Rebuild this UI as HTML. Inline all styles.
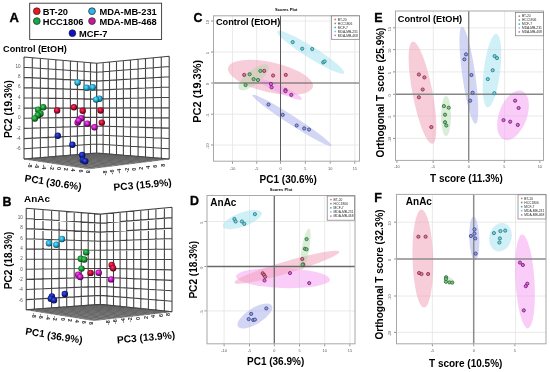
<!DOCTYPE html><html><head><meta charset="utf-8"><style>html,body{margin:0;padding:0;background:#fff;}svg{display:block;will-change:transform;filter:blur(0.3px);}text{font-family:"Liberation Sans", sans-serif;}</style></head><body>
<svg width="550" height="372" viewBox="0 0 550 372">
<defs>
<radialGradient id="g_red" cx="0.45" cy="0.42" r="0.58" fx="0.4" fy="0.36"><stop offset="0" stop-color="#e84868"/><stop offset="0.5" stop-color="#c80c34"/><stop offset="0.85" stop-color="#78001c"/><stop offset="1" stop-color="#380010"/></radialGradient>
<radialGradient id="g_green" cx="0.45" cy="0.42" r="0.58" fx="0.4" fy="0.36"><stop offset="0" stop-color="#50d068"/><stop offset="0.5" stop-color="#1c9a36"/><stop offset="0.85" stop-color="#0a5a18"/><stop offset="1" stop-color="#022a08"/></radialGradient>
<radialGradient id="g_cyan" cx="0.45" cy="0.42" r="0.58" fx="0.4" fy="0.36"><stop offset="0" stop-color="#70dcf8"/><stop offset="0.5" stop-color="#28b0d8"/><stop offset="0.85" stop-color="#0a6a88"/><stop offset="1" stop-color="#023040"/></radialGradient>
<radialGradient id="g_mag" cx="0.45" cy="0.42" r="0.58" fx="0.4" fy="0.36"><stop offset="0" stop-color="#f060f0"/><stop offset="0.5" stop-color="#c818c0"/><stop offset="0.85" stop-color="#700070"/><stop offset="1" stop-color="#300030"/></radialGradient>
<radialGradient id="g_blue" cx="0.45" cy="0.42" r="0.58" fx="0.4" fy="0.36"><stop offset="0" stop-color="#4058e0"/><stop offset="0.5" stop-color="#1828b0"/><stop offset="0.85" stop-color="#0a1268"/><stop offset="1" stop-color="#020834"/></radialGradient>
</defs>
<rect width="550" height="372" fill="#fff"/>
<text x="9.6" y="22.0" font-size="13.0" font-weight="bold" text-anchor="start" fill="#000" stroke="#000" stroke-width="0.35">A</text>
<rect x="29.7" y="3.2" width="131.9" height="36.3" fill="#fff" stroke="#333" stroke-width="0.9"/>
<circle cx="36.8" cy="11.2" r="3.4" fill="#f0141c" stroke="#222" stroke-width="0.7"/>
<text x="42.7" y="14.6" font-size="9.3" font-weight="bold" text-anchor="start" fill="#000">BT-20</text>
<circle cx="36.8" cy="21.1" r="3.4" fill="#14a848" stroke="#222" stroke-width="0.7"/>
<text x="42.7" y="24.5" font-size="9.3" font-weight="bold" text-anchor="start" fill="#000">HCC1806</text>
<circle cx="92.0" cy="11.2" r="3.4" fill="#30b4e8" stroke="#222" stroke-width="0.7"/>
<text x="99.4" y="14.6" font-size="9.3" font-weight="bold" text-anchor="start" fill="#000">MDA-MB-231</text>
<circle cx="92.0" cy="21.1" r="3.4" fill="#c8189c" stroke="#222" stroke-width="0.7"/>
<text x="99.4" y="24.5" font-size="9.3" font-weight="bold" text-anchor="start" fill="#000">MDA-MB-468</text>
<circle cx="72.4" cy="33.2" r="3.4" fill="#1010c8" stroke="#222" stroke-width="0.7"/>
<text x="79.0" y="36.6" font-size="9.3" font-weight="bold" text-anchor="start" fill="#000">MCF-7</text>
<text x="3.1" y="52.3" font-size="9.1" font-weight="bold" text-anchor="start" fill="#000">Control (EtOH)</text>
<polygon points="24,159 96.6,153 169.2,159.0 89,168.8" fill="#bdbdbd"/><path d="M24.00 159.00L89.00 168.80M96.60 153.00L24.00 159.00M29.19 158.57L94.73 168.10M101.79 153.43L28.64 159.70M34.37 158.14L100.46 167.40M106.97 153.86L33.29 160.40M39.56 157.71L106.19 166.70M112.16 154.29L37.93 161.10M44.74 157.29L111.91 166.00M117.34 154.71L42.57 161.80M49.93 156.86L117.64 165.30M122.53 155.14L47.21 162.50M55.11 156.43L123.37 164.60M127.71 155.57L51.86 163.20M60.30 156.00L129.10 163.90M132.90 156.00L56.50 163.90M65.49 155.57L134.83 163.20M138.09 156.43L61.14 164.60M70.67 155.14L140.56 162.50M143.27 156.86L65.79 165.30M75.86 154.71L146.29 161.80M148.46 157.29L70.43 166.00M81.04 154.29L152.01 161.10M153.64 157.71L75.07 166.70M86.23 153.86L157.74 160.40M158.83 158.14L79.71 167.40M91.41 153.43L163.47 159.70M164.01 158.57L84.36 168.10M96.60 153.00L169.20 159.00M169.20 159.00L89.00 168.80" stroke="#404040" stroke-width="0.5" fill="none"/><path d="M24.00 57.00V159.00M32.30 57.71V158.31M40.40 58.40V157.64M48.20 59.07V157.00M55.80 59.72V156.37M63.10 60.34V155.77M70.40 60.96V155.17M77.40 61.56V154.59M84.10 62.13V154.03M90.50 62.68V153.50M96.60 63.20V153.00M24.00 57.00L96.60 63.20M24.00 67.20L96.60 72.18M24.00 77.40L96.60 81.16M24.00 87.60L96.60 90.14M24.00 97.80L96.60 99.12M24.00 108.00L96.60 108.10M24.00 118.20L96.60 117.08M24.00 128.40L96.60 126.06M24.00 138.60L96.60 135.04M24.00 148.80L96.60 144.02M24.00 159.00L96.60 153.00" stroke="#454545" stroke-width="1.1" fill="none"/><path d="M96.60 63.20V153.00M103.10 62.57V153.54M109.50 61.96V154.07M116.50 61.28V154.64M123.40 60.62V155.21M130.50 59.93V155.80M138.10 59.20V156.43M145.50 58.49V157.04M153.30 57.73V157.69M161.30 56.96V158.35M169.20 56.20V159.00M96.60 63.20L169.20 56.20M96.60 72.18L169.20 66.48M96.60 81.16L169.20 76.76M96.60 90.14L169.20 87.04M96.60 99.12L169.20 97.32M96.60 108.10L169.20 107.60M96.60 117.08L169.20 117.88M96.60 126.06L169.20 128.16M96.60 135.04L169.20 138.44M96.60 144.02L169.20 148.72M96.60 153.00L169.20 159.00" stroke="#454545" stroke-width="1.1" fill="none"/>
<text x="20.5" y="67.5" font-size="4.6" font-weight="normal" text-anchor="end" fill="#555">10</text>
<text x="20.5" y="77.85" font-size="4.6" font-weight="normal" text-anchor="end" fill="#555">8</text>
<text x="20.5" y="88.2" font-size="4.6" font-weight="normal" text-anchor="end" fill="#555">6</text>
<text x="20.5" y="98.55" font-size="4.6" font-weight="normal" text-anchor="end" fill="#555">4</text>
<text x="20.5" y="108.9" font-size="4.6" font-weight="normal" text-anchor="end" fill="#555">2</text>
<text x="20.5" y="119.25" font-size="4.6" font-weight="normal" text-anchor="end" fill="#555">0</text>
<text x="20.5" y="129.6" font-size="4.6" font-weight="normal" text-anchor="end" fill="#555">-2</text>
<text x="20.5" y="139.95000000000002" font-size="4.6" font-weight="normal" text-anchor="end" fill="#555">-4</text>
<text x="20.5" y="150.29999999999998" font-size="4.6" font-weight="normal" text-anchor="end" fill="#555">-6</text>
<text x="29.7" y="165.1" font-size="5.4" font-weight="bold" text-anchor="middle" dominant-baseline="central" fill="#2a2a2a" transform="rotate(90 29.7 165.1)">-8</text><text x="37.0" y="165.9" font-size="5.4" font-weight="bold" text-anchor="middle" dominant-baseline="central" fill="#2a2a2a" transform="rotate(90 37.0 165.9)">-6</text><text x="44.2" y="166.8" font-size="5.4" font-weight="bold" text-anchor="middle" dominant-baseline="central" fill="#2a2a2a" transform="rotate(90 44.2 166.8)">-4</text><text x="51.5" y="167.6" font-size="5.4" font-weight="bold" text-anchor="middle" dominant-baseline="central" fill="#2a2a2a" transform="rotate(90 51.5 167.6)">-2</text><text x="58.7" y="168.4" font-size="5.4" font-weight="bold" text-anchor="middle" dominant-baseline="central" fill="#2a2a2a" transform="rotate(90 58.7 168.4)">0</text><text x="66.0" y="169.3" font-size="5.4" font-weight="bold" text-anchor="middle" dominant-baseline="central" fill="#2a2a2a" transform="rotate(90 66.0 169.3)">2</text><text x="73.2" y="170.1" font-size="5.4" font-weight="bold" text-anchor="middle" dominant-baseline="central" fill="#2a2a2a" transform="rotate(90 73.2 170.1)">4</text><text x="80.5" y="171.0" font-size="5.4" font-weight="bold" text-anchor="middle" dominant-baseline="central" fill="#2a2a2a" transform="rotate(90 80.5 171.0)">6</text><text x="87.7" y="171.8" font-size="5.4" font-weight="bold" text-anchor="middle" dominant-baseline="central" fill="#2a2a2a" transform="rotate(90 87.7 171.8)">8</text>
<text x="105.2" y="173.0" font-size="5.4" font-weight="bold" text-anchor="middle" dominant-baseline="central" fill="#2a2a2a" transform="rotate(-90 105.2 173.0)">-8</text><text x="112.4" y="172.0" font-size="5.4" font-weight="bold" text-anchor="middle" dominant-baseline="central" fill="#2a2a2a" transform="rotate(-90 112.4 172.0)">-6</text><text x="119.5" y="171.1" font-size="5.4" font-weight="bold" text-anchor="middle" dominant-baseline="central" fill="#2a2a2a" transform="rotate(-90 119.5 171.1)">-4</text><text x="126.7" y="170.1" font-size="5.4" font-weight="bold" text-anchor="middle" dominant-baseline="central" fill="#2a2a2a" transform="rotate(-90 126.7 170.1)">-2</text><text x="133.9" y="169.2" font-size="5.4" font-weight="bold" text-anchor="middle" dominant-baseline="central" fill="#2a2a2a" transform="rotate(-90 133.9 169.2)">0</text><text x="141.1" y="168.2" font-size="5.4" font-weight="bold" text-anchor="middle" dominant-baseline="central" fill="#2a2a2a" transform="rotate(-90 141.1 168.2)">2</text><text x="148.2" y="167.2" font-size="5.4" font-weight="bold" text-anchor="middle" dominant-baseline="central" fill="#2a2a2a" transform="rotate(-90 148.2 167.2)">4</text><text x="155.4" y="166.3" font-size="5.4" font-weight="bold" text-anchor="middle" dominant-baseline="central" fill="#2a2a2a" transform="rotate(-90 155.4 166.3)">6</text><text x="162.6" y="165.3" font-size="5.4" font-weight="bold" text-anchor="middle" dominant-baseline="central" fill="#2a2a2a" transform="rotate(-90 162.6 165.3)">8</text>
<circle cx="77.6" cy="82.4" r="3.2" fill="url(#g_cyan)"/>
<circle cx="86.6" cy="87.8" r="3.2" fill="url(#g_cyan)"/>
<circle cx="92.7" cy="87.3" r="3.2" fill="url(#g_cyan)"/>
<circle cx="99.4" cy="98.8" r="3.2" fill="url(#g_cyan)"/>
<circle cx="96.1" cy="99.6" r="3.2" fill="url(#g_cyan)"/>
<circle cx="43.2" cy="107.3" r="3.2" fill="url(#g_green)"/>
<circle cx="38.1" cy="109.7" r="3.2" fill="url(#g_green)"/>
<circle cx="40.5" cy="113.7" r="3.2" fill="url(#g_green)"/>
<circle cx="37.7" cy="115.2" r="3.2" fill="url(#g_green)"/>
<circle cx="34.8" cy="118.5" r="3.2" fill="url(#g_green)"/>
<circle cx="57.1" cy="110.5" r="3.2" fill="url(#g_red)"/>
<circle cx="73.9" cy="107.3" r="3.2" fill="url(#g_red)"/>
<circle cx="82.7" cy="110.8" r="3.2" fill="url(#g_red)"/>
<circle cx="100.6" cy="110.5" r="3.2" fill="url(#g_red)"/>
<circle cx="101.8" cy="122.6" r="3.2" fill="url(#g_red)"/>
<circle cx="77.6" cy="122.6" r="3.2" fill="url(#g_mag)"/>
<circle cx="81.3" cy="118.2" r="3.2" fill="url(#g_mag)"/>
<circle cx="78.6" cy="120.6" r="3.2" fill="url(#g_mag)"/>
<circle cx="87.3" cy="123.6" r="3.2" fill="url(#g_mag)"/>
<circle cx="94.5" cy="127.3" r="3.2" fill="url(#g_mag)"/>
<circle cx="57.8" cy="135.7" r="3.2" fill="url(#g_blue)"/>
<circle cx="72.4" cy="144.8" r="3.2" fill="url(#g_blue)"/>
<circle cx="82.2" cy="154.9" r="3.2" fill="url(#g_blue)"/>
<circle cx="82.9" cy="160.1" r="3.2" fill="url(#g_blue)"/>
<circle cx="85.2" cy="161.2" r="3.2" fill="url(#g_blue)"/>
<text x="12.1" y="138" font-size="10.1" font-weight="bold" text-anchor="start" fill="#000" transform="rotate(-90 12.1 138)">PC2 (19.3%)</text>
<g transform="rotate(8 24.4 181)"><text x="24.4" y="181.6" font-size="10.0" font-weight="bold" text-anchor="start" fill="#000">PC1</text><text x="46.2" y="182.2" font-size="10.2" font-weight="bold">(30.6%)</text></g>
<g transform="rotate(-5 113.8 190.8)"><text x="113.8" y="190.8" font-size="10.2" font-weight="bold" text-anchor="start" fill="#000">PC3 (15.9%)</text></g>
<text x="2.6" y="206.1" font-size="12.4" font-weight="bold" text-anchor="start" fill="#000" stroke="#000" stroke-width="0.35">B</text>
<text x="24.1" y="202.4" font-size="9.9" font-weight="bold" text-anchor="start" fill="#000">AnAc</text>
<polygon points="26.2,309.8 100.4,304.4 172.0,311.7 94,320.5" fill="#bdbdbd"/><path d="M26.20 309.80L94.00 320.50M100.40 304.40L26.20 309.80M31.50 309.41L99.57 319.87M105.51 304.92L31.04 310.56M36.80 309.03L105.14 319.24M110.63 305.44L35.89 311.33M42.10 308.64L110.71 318.61M115.74 305.96L40.73 312.09M47.40 308.26L116.29 317.99M120.86 306.49L45.57 312.86M52.70 307.87L121.86 317.36M125.97 307.01L50.41 313.62M58.00 307.49L127.43 316.73M131.09 307.53L55.26 314.39M63.30 307.10L133.00 316.10M136.20 308.05L60.10 315.15M68.60 306.71L138.57 315.47M141.31 308.57L64.94 315.91M73.90 306.33L144.14 314.84M146.43 309.09L69.79 316.68M79.20 305.94L149.71 314.21M151.54 309.61L74.63 317.44M84.50 305.56L155.29 313.59M156.66 310.14L79.47 318.21M89.80 305.17L160.86 312.96M161.77 310.66L84.31 318.97M95.10 304.79L166.43 312.33M166.89 311.18L89.16 319.74M100.40 304.40L172.00 311.70M172.00 311.70L94.00 320.50" stroke="#404040" stroke-width="0.5" fill="none"/><path d="M26.20 208.30V309.80M34.40 208.94V309.20M43.00 209.61V308.58M51.60 210.29V307.95M59.10 210.87V307.41M66.70 211.47V306.85M74.20 212.05V306.31M81.30 212.61V305.79M88.20 213.15V305.29M94.60 213.65V304.82M100.40 214.10V304.40M26.20 208.30L100.40 214.10M26.20 218.45L100.40 223.13M26.20 228.60L100.40 232.16M26.20 238.75L100.40 241.19M26.20 248.90L100.40 250.22M26.20 259.05L100.40 259.25M26.20 269.20L100.40 268.28M26.20 279.35L100.40 277.31M26.20 289.50L100.40 286.34M26.20 299.65L100.40 295.37M26.20 309.80L100.40 304.40" stroke="#454545" stroke-width="1.1" fill="none"/><path d="M100.40 214.10V304.40M107.00 213.46V305.07M113.50 212.84V305.74M120.10 212.20V306.41M126.70 211.57V307.08M133.70 210.89V307.80M140.80 210.21V308.52M148.40 209.47V309.29M155.90 208.75V310.06M164.40 207.93V310.93M172.00 207.20V311.70M100.40 214.10L172.00 207.20M100.40 223.13L172.00 217.65M100.40 232.16L172.00 228.10M100.40 241.19L172.00 238.55M100.40 250.22L172.00 249.00M100.40 259.25L172.00 259.45M100.40 268.28L172.00 269.90M100.40 277.31L172.00 280.35M100.40 286.34L172.00 290.80M100.40 295.37L172.00 301.25M100.40 304.40L172.00 311.70" stroke="#454545" stroke-width="1.1" fill="none"/>
<text x="22.8" y="219.1" font-size="4.6" font-weight="normal" text-anchor="end" fill="#555">10</text>
<text x="22.8" y="229.4" font-size="4.6" font-weight="normal" text-anchor="end" fill="#555">8</text>
<text x="22.8" y="239.7" font-size="4.6" font-weight="normal" text-anchor="end" fill="#555">6</text>
<text x="22.8" y="250.0" font-size="4.6" font-weight="normal" text-anchor="end" fill="#555">4</text>
<text x="22.8" y="260.3" font-size="4.6" font-weight="normal" text-anchor="end" fill="#555">2</text>
<text x="22.8" y="270.6" font-size="4.6" font-weight="normal" text-anchor="end" fill="#555">0</text>
<text x="22.8" y="280.90000000000003" font-size="4.6" font-weight="normal" text-anchor="end" fill="#555">-2</text>
<text x="22.8" y="291.20000000000005" font-size="4.6" font-weight="normal" text-anchor="end" fill="#555">-4</text>
<text x="22.8" y="301.5" font-size="4.6" font-weight="normal" text-anchor="end" fill="#555">-6</text>
<text x="33.7" y="315.3" font-size="5.4" font-weight="bold" text-anchor="middle" dominant-baseline="central" fill="#2a2a2a" transform="rotate(90 33.7 315.3)">-8</text><text x="40.9" y="316.3" font-size="5.4" font-weight="bold" text-anchor="middle" dominant-baseline="central" fill="#2a2a2a" transform="rotate(90 40.9 316.3)">-6</text><text x="48.1" y="317.3" font-size="5.4" font-weight="bold" text-anchor="middle" dominant-baseline="central" fill="#2a2a2a" transform="rotate(90 48.1 317.3)">-4</text><text x="55.3" y="318.3" font-size="5.4" font-weight="bold" text-anchor="middle" dominant-baseline="central" fill="#2a2a2a" transform="rotate(90 55.3 318.3)">-2</text><text x="62.5" y="319.3" font-size="5.4" font-weight="bold" text-anchor="middle" dominant-baseline="central" fill="#2a2a2a" transform="rotate(90 62.5 319.3)">0</text><text x="69.6" y="320.3" font-size="5.4" font-weight="bold" text-anchor="middle" dominant-baseline="central" fill="#2a2a2a" transform="rotate(90 69.6 320.3)">2</text><text x="76.8" y="321.3" font-size="5.4" font-weight="bold" text-anchor="middle" dominant-baseline="central" fill="#2a2a2a" transform="rotate(90 76.8 321.3)">4</text><text x="84.0" y="322.3" font-size="5.4" font-weight="bold" text-anchor="middle" dominant-baseline="central" fill="#2a2a2a" transform="rotate(90 84.0 322.3)">6</text><text x="91.2" y="323.3" font-size="5.4" font-weight="bold" text-anchor="middle" dominant-baseline="central" fill="#2a2a2a" transform="rotate(90 91.2 323.3)">8</text>
<text x="108.0" y="322.6" font-size="5.4" font-weight="bold" text-anchor="middle" dominant-baseline="central" fill="#2a2a2a" transform="rotate(-90 108.0 322.6)">-8</text><text x="115.5" y="321.6" font-size="5.4" font-weight="bold" text-anchor="middle" dominant-baseline="central" fill="#2a2a2a" transform="rotate(-90 115.5 321.6)">-6</text><text x="123.0" y="320.6" font-size="5.4" font-weight="bold" text-anchor="middle" dominant-baseline="central" fill="#2a2a2a" transform="rotate(-90 123.0 320.6)">-4</text><text x="130.5" y="319.6" font-size="5.4" font-weight="bold" text-anchor="middle" dominant-baseline="central" fill="#2a2a2a" transform="rotate(-90 130.5 319.6)">-2</text><text x="138.0" y="318.6" font-size="5.4" font-weight="bold" text-anchor="middle" dominant-baseline="central" fill="#2a2a2a" transform="rotate(-90 138.0 318.6)">0</text><text x="145.5" y="317.5" font-size="5.4" font-weight="bold" text-anchor="middle" dominant-baseline="central" fill="#2a2a2a" transform="rotate(-90 145.5 317.5)">2</text><text x="153.0" y="316.5" font-size="5.4" font-weight="bold" text-anchor="middle" dominant-baseline="central" fill="#2a2a2a" transform="rotate(-90 153.0 316.5)">4</text><text x="160.5" y="315.5" font-size="5.4" font-weight="bold" text-anchor="middle" dominant-baseline="central" fill="#2a2a2a" transform="rotate(-90 160.5 315.5)">6</text><text x="168.0" y="314.5" font-size="5.4" font-weight="bold" text-anchor="middle" dominant-baseline="central" fill="#2a2a2a" transform="rotate(-90 168.0 314.5)">8</text>
<circle cx="49.0" cy="243.3" r="3.2" fill="url(#g_cyan)"/>
<circle cx="56.3" cy="244.8" r="3.2" fill="url(#g_cyan)"/>
<circle cx="61.9" cy="239.0" r="3.2" fill="url(#g_cyan)"/>
<circle cx="86.2" cy="252.4" r="3.2" fill="url(#g_green)"/>
<circle cx="80.8" cy="258.8" r="3.2" fill="url(#g_green)"/>
<circle cx="84.2" cy="259.5" r="3.2" fill="url(#g_green)"/>
<circle cx="81.5" cy="268.6" r="3.2" fill="url(#g_green)"/>
<circle cx="78.1" cy="274.7" r="3.2" fill="url(#g_mag)"/>
<circle cx="80.2" cy="277.0" r="3.2" fill="url(#g_mag)"/>
<circle cx="90.6" cy="272.9" r="3.2" fill="url(#g_red)"/>
<circle cx="111.7" cy="264.9" r="3.2" fill="url(#g_red)"/>
<circle cx="113.1" cy="268.2" r="3.2" fill="url(#g_red)"/>
<circle cx="98.7" cy="272.7" r="3.2" fill="url(#g_mag)"/>
<circle cx="111.1" cy="279.4" r="3.2" fill="url(#g_mag)"/>
<circle cx="51.9" cy="296.5" r="3.2" fill="url(#g_blue)"/>
<circle cx="50.8" cy="298.7" r="3.2" fill="url(#g_blue)"/>
<circle cx="54.0" cy="300.2" r="3.2" fill="url(#g_blue)"/>
<circle cx="64.8" cy="294.0" r="3.2" fill="url(#g_blue)"/>
<text x="11.8" y="289.3" font-size="10.1" font-weight="bold" text-anchor="start" fill="#000" transform="rotate(-90 11.8 289.3)">PC2 (18.3%)</text>
<g transform="rotate(8 25 334)"><text x="25" y="334.6" font-size="10.0" font-weight="bold" text-anchor="start" fill="#000">PC1</text><text x="47.2" y="335.4" font-size="10.2" font-weight="bold">(36.9%)</text></g>
<g transform="rotate(-5 117.2 343.4)"><text x="117.2" y="343.4" font-size="10.2" font-weight="bold" text-anchor="start" fill="#000">PC3 (13.9%)</text></g>
<text x="193.5" y="21.8" font-size="12.4" font-weight="bold" text-anchor="start" fill="#000" stroke="#000" stroke-width="0.35">C</text>
<text x="286.2" y="11.4" font-size="4.1" font-weight="bold" text-anchor="middle" fill="#000">Scores Plot</text>
<rect x="213.5" y="15.8" width="146.0" height="145.39999999999998" fill="#fff"/><path d="M232.5 15.8V161.2M256.7 15.8V161.2M305.4 15.8V161.2M330.2 15.8V161.2M354.8 15.8V161.2M213.5 21H359.5M213.5 52H359.5M213.5 114.2H359.5M213.5 145H359.5" stroke="#e4e4e4" stroke-width="0.8" fill="none"/><ellipse cx="270.5" cy="77.3" rx="43.5" ry="15.0" transform="rotate(12.7 270.5 77.3)" fill="rgb(241,155,181)" fill-opacity="0.5"/><ellipse cx="253.6" cy="77.3" rx="18.7" ry="7.0" transform="rotate(-39 253.6 77.3)" fill="rgb(165,212,160)" fill-opacity="0.42"/><ellipse cx="280.5" cy="89.5" rx="23.4" ry="3.8" transform="rotate(24.1 280.5 89.5)" fill="rgb(245,155,241)" fill-opacity="0.5"/><ellipse cx="292.0" cy="120.4" rx="47.0" ry="4.4" transform="rotate(32.8 292.0 120.4)" fill="rgb(165,173,233)" fill-opacity="0.5"/><ellipse cx="310.7" cy="52.2" rx="39.5" ry="5.8" transform="rotate(32.1 310.7 52.2)" fill="rgb(160,225,240)" fill-opacity="0.5"/><path d="M280.5 15.8V161.2M213.5 83H359.5" stroke="#5a5a5a" stroke-width="1.0" fill="none"/><rect x="213.5" y="15.8" width="146.0" height="145.39999999999998" fill="none" stroke="#a8a8a8" stroke-width="1.0"/><path d="M232.5 161.7v2M256.7 161.7v2M280.5 161.7v2M305.4 161.7v2M330.2 161.7v2M354.8 161.7v2M213.0 21h-2M213.0 52h-2M213.0 83h-2M213.0 114.2h-2M213.0 145h-2" stroke="#777" stroke-width="0.8" fill="none"/><circle cx="244.2" cy="74.9" r="1.6" fill="rgb(228,120,152)" stroke="rgb(115,40,70)" stroke-width="0.8"/><circle cx="264.2" cy="70.9" r="1.6" fill="rgb(228,120,152)" stroke="rgb(115,40,70)" stroke-width="0.8"/><circle cx="273.1" cy="75.5" r="1.6" fill="rgb(228,120,152)" stroke="rgb(115,40,70)" stroke-width="0.8"/><circle cx="285.8" cy="74.9" r="1.6" fill="rgb(228,120,152)" stroke="rgb(115,40,70)" stroke-width="0.8"/><circle cx="249.6" cy="74.2" r="1.6" fill="rgb(125,200,135)" stroke="rgb(45,100,55)" stroke-width="0.8"/><circle cx="260.4" cy="70.9" r="1.6" fill="rgb(125,200,135)" stroke="rgb(45,100,55)" stroke-width="0.8"/><circle cx="253.6" cy="79.1" r="1.6" fill="rgb(125,200,135)" stroke="rgb(45,100,55)" stroke-width="0.8"/><circle cx="258" cy="80" r="1.6" fill="rgb(125,200,135)" stroke="rgb(45,100,55)" stroke-width="0.8"/><circle cx="245.6" cy="85.1" r="1.6" fill="rgb(125,200,135)" stroke="rgb(45,100,55)" stroke-width="0.8"/><circle cx="270.9" cy="84" r="1.6" fill="rgb(230,100,230)" stroke="rgb(100,30,100)" stroke-width="0.8"/><circle cx="271.6" cy="87.3" r="1.6" fill="rgb(230,100,230)" stroke="rgb(100,30,100)" stroke-width="0.8"/><circle cx="285.5" cy="90" r="1.6" fill="rgb(230,100,230)" stroke="rgb(100,30,100)" stroke-width="0.8"/><circle cx="285.5" cy="91.2" r="1.6" fill="rgb(230,100,230)" stroke="rgb(100,30,100)" stroke-width="0.8"/><circle cx="291.3" cy="94.9" r="1.6" fill="rgb(230,100,230)" stroke="rgb(100,30,100)" stroke-width="0.8"/><circle cx="268.5" cy="104.5" r="1.6" fill="rgb(150,160,230)" stroke="rgb(50,60,130)" stroke-width="0.8"/><circle cx="282.7" cy="114.8" r="1.6" fill="rgb(150,160,230)" stroke="rgb(50,60,130)" stroke-width="0.8"/><circle cx="296.7" cy="125.5" r="1.6" fill="rgb(150,160,230)" stroke="rgb(50,60,130)" stroke-width="0.8"/><circle cx="304.2" cy="128.4" r="1.6" fill="rgb(150,160,230)" stroke="rgb(50,60,130)" stroke-width="0.8"/><circle cx="309" cy="129.5" r="1.6" fill="rgb(150,160,230)" stroke="rgb(50,60,130)" stroke-width="0.8"/><circle cx="292.7" cy="42.1" r="1.6" fill="rgb(100,220,232)" stroke="rgb(50,110,120)" stroke-width="0.8"/><circle cx="302.2" cy="48.7" r="1.6" fill="rgb(100,220,232)" stroke="rgb(50,110,120)" stroke-width="0.8"/><circle cx="312.2" cy="49" r="1.6" fill="rgb(100,220,232)" stroke="rgb(50,110,120)" stroke-width="0.8"/><circle cx="323.2" cy="62.4" r="1.6" fill="rgb(100,220,232)" stroke="rgb(50,110,120)" stroke-width="0.8"/><circle cx="324.6" cy="61.4" r="1.6" fill="rgb(100,220,232)" stroke="rgb(50,110,120)" stroke-width="0.8"/><rect x="331.5" y="15.9" width="28.0" height="23.4" fill="#fff" stroke="#777" stroke-width="0.7"/><circle cx="335.2" cy="19.5" r="0.9" fill="#e07090"/><text x="337.8" y="20.7" font-size="3.3" fill="#2a2a2a">BT-20</text><circle cx="335.2" cy="23.46" r="0.9" fill="#60b060"/><text x="337.8" y="24.66" font-size="3.3" fill="#2a2a2a">HCC1806</text><circle cx="335.2" cy="27.419999999999998" r="0.9" fill="#8090d0"/><text x="337.8" y="28.619999999999997" font-size="3.3" fill="#2a2a2a">MCF-7</text><circle cx="335.2" cy="31.38" r="0.9" fill="#70d0e0"/><text x="337.8" y="32.58" font-size="3.3" fill="#2a2a2a">MDA-MB-231</text><circle cx="335.2" cy="35.339999999999996" r="0.9" fill="#d070d0"/><text x="337.8" y="36.54" font-size="3.3" fill="#2a2a2a">MDA-MB-468</text>
<text x="215.9" y="24.7" font-size="9.2" font-weight="bold" text-anchor="start" fill="#000">Control (EtOH)</text>
<text x="209.5" y="22.2" font-size="3.8" font-weight="normal" text-anchor="middle" fill="#555" transform="rotate(-90 209.5 22.2)">10</text>
<text x="209.5" y="53.2" font-size="3.8" font-weight="normal" text-anchor="middle" fill="#555" transform="rotate(-90 209.5 53.2)">5</text>
<text x="209.5" y="84.2" font-size="3.8" font-weight="normal" text-anchor="middle" fill="#555" transform="rotate(-90 209.5 84.2)">0</text>
<text x="209.5" y="115.4" font-size="3.8" font-weight="normal" text-anchor="middle" fill="#555" transform="rotate(-90 209.5 115.4)">-5</text>
<text x="209.5" y="146.2" font-size="3.8" font-weight="normal" text-anchor="middle" fill="#555" transform="rotate(-90 209.5 146.2)">-10</text>
<text x="232.5" y="169.5" font-size="3.8" font-weight="normal" text-anchor="middle" fill="#555">-10</text>
<text x="256.7" y="169.5" font-size="3.8" font-weight="normal" text-anchor="middle" fill="#555">-5</text>
<text x="280.5" y="169.5" font-size="3.8" font-weight="normal" text-anchor="middle" fill="#555">0</text>
<text x="305.4" y="169.5" font-size="3.8" font-weight="normal" text-anchor="middle" fill="#555">5</text>
<text x="330.2" y="169.5" font-size="3.8" font-weight="normal" text-anchor="middle" fill="#555">10</text>
<text x="354.8" y="169.5" font-size="3.8" font-weight="normal" text-anchor="middle" fill="#555">15</text>
<text x="201.3" y="122.8" font-size="11.0" font-weight="bold" text-anchor="start" fill="#000" transform="rotate(-90 201.3 122.8)">PC2 (19.3%)</text>
<text x="259.6" y="182.7" font-size="10.0" font-weight="bold" text-anchor="start" fill="#000">PC1 (30.6%)</text>
<text x="190" y="205.2" font-size="12.4" font-weight="bold" text-anchor="start" fill="#000" stroke="#000" stroke-width="0.35">D</text>
<text x="281" y="191.2" font-size="4.1" font-weight="bold" text-anchor="middle" fill="#000">Scores Plot</text>
<rect x="207" y="195.5" width="148" height="148.3" fill="#fff"/><path d="M224.1 195.5V343.8M249.5 195.5V343.8M299.5 195.5V343.8M324.7 195.5V343.8M349.9 195.5V343.8M207 221.5H355M207 310.9H355" stroke="#e4e4e4" stroke-width="0.8" fill="none"/><ellipse cx="242.3" cy="219.6" rx="20.5" ry="7.0" transform="rotate(-20 242.3 219.6)" fill="rgb(160,225,240)" fill-opacity="0.5"/><ellipse cx="283.0" cy="278.0" rx="47.0" ry="10.0" transform="rotate(2 283.0 278.0)" fill="rgb(245,155,241)" fill-opacity="0.5"/><ellipse cx="286.9" cy="267.2" rx="54.6" ry="6.0" transform="rotate(-16.5 286.9 267.2)" fill="rgb(241,155,181)" fill-opacity="0.5"/><ellipse cx="305.4" cy="249.2" rx="21.0" ry="3.8" transform="rotate(-80 305.4 249.2)" fill="rgb(165,212,160)" fill-opacity="0.42"/><ellipse cx="254.9" cy="316.0" rx="20.0" ry="8.0" transform="rotate(-32 254.9 316.0)" fill="rgb(165,173,233)" fill-opacity="0.5"/><path d="M274.3 195.5V343.8M207 266.5H355" stroke="#6a6a6a" stroke-width="1.3" fill="none"/><rect x="207" y="195.5" width="148" height="148.3" fill="none" stroke="#a8a8a8" stroke-width="1.0"/><path d="M224.1 344.3v2M249.5 344.3v2M274.3 344.3v2M299.5 344.3v2M324.7 344.3v2M349.9 344.3v2M206.5 221.5h-2M206.5 266.5h-2M206.5 310.9h-2" stroke="#777" stroke-width="0.8" fill="none"/><circle cx="234.4" cy="219" r="1.6" fill="rgb(100,220,232)" stroke="rgb(50,110,120)" stroke-width="0.8"/><circle cx="235.6" cy="221.5" r="1.6" fill="rgb(100,220,232)" stroke="rgb(50,110,120)" stroke-width="0.8"/><circle cx="241.9" cy="221.5" r="1.6" fill="rgb(100,220,232)" stroke="rgb(50,110,120)" stroke-width="0.8"/><circle cx="244.3" cy="223.9" r="1.6" fill="rgb(100,220,232)" stroke="rgb(50,110,120)" stroke-width="0.8"/><circle cx="254.9" cy="214.2" r="1.6" fill="rgb(100,220,232)" stroke="rgb(50,110,120)" stroke-width="0.8"/><circle cx="302.3" cy="259" r="1.6" fill="rgb(228,120,152)" stroke="rgb(115,40,70)" stroke-width="0.8"/><circle cx="303.2" cy="264.5" r="1.6" fill="rgb(228,120,152)" stroke="rgb(115,40,70)" stroke-width="0.8"/><circle cx="306.6" cy="239.1" r="1.6" fill="rgb(125,200,135)" stroke="rgb(45,100,55)" stroke-width="0.8"/><circle cx="304.9" cy="248.8" r="1.6" fill="rgb(125,200,135)" stroke="rgb(45,100,55)" stroke-width="0.8"/><circle cx="306.6" cy="249.3" r="1.6" fill="rgb(125,200,135)" stroke="rgb(45,100,55)" stroke-width="0.8"/><circle cx="302.6" cy="264.6" r="1.6" fill="rgb(125,200,135)" stroke="rgb(45,100,55)" stroke-width="0.8"/><circle cx="262.7" cy="273.3" r="1.6" fill="rgb(228,120,152)" stroke="rgb(115,40,70)" stroke-width="0.8"/><circle cx="264" cy="274.9" r="1.6" fill="rgb(228,120,152)" stroke="rgb(115,40,70)" stroke-width="0.8"/><circle cx="265.1" cy="276.7" r="1.6" fill="rgb(228,120,152)" stroke="rgb(115,40,70)" stroke-width="0.8"/><circle cx="264.5" cy="280.5" r="1.6" fill="rgb(230,100,230)" stroke="rgb(100,30,100)" stroke-width="0.8"/><circle cx="290" cy="273.1" r="1.6" fill="rgb(230,100,230)" stroke="rgb(100,30,100)" stroke-width="0.8"/><circle cx="309.2" cy="283.1" r="1.6" fill="rgb(230,100,230)" stroke="rgb(100,30,100)" stroke-width="0.8"/><circle cx="266.3" cy="308.4" r="1.6" fill="rgb(150,160,230)" stroke="rgb(50,60,130)" stroke-width="0.8"/><circle cx="251.2" cy="313.9" r="1.6" fill="rgb(150,160,230)" stroke="rgb(50,60,130)" stroke-width="0.8"/><circle cx="248.7" cy="319.1" r="1.6" fill="rgb(150,160,230)" stroke="rgb(50,60,130)" stroke-width="0.8"/><circle cx="253.2" cy="320" r="1.6" fill="rgb(150,160,230)" stroke="rgb(50,60,130)" stroke-width="0.8"/><circle cx="254.9" cy="319.6" r="1.6" fill="rgb(150,160,230)" stroke="rgb(50,60,130)" stroke-width="0.8"/><rect x="327.2" y="196" width="27.30000000000001" height="24.19999999999999" fill="#fff" stroke="#777" stroke-width="0.7"/><circle cx="330.9" cy="199.6" r="0.9" fill="#e07090"/><text x="333.5" y="200.79999999999998" font-size="3.3" fill="#2a2a2a">BT-20</text><circle cx="330.9" cy="203.72" r="0.9" fill="#60b060"/><text x="333.5" y="204.92" font-size="3.3" fill="#2a2a2a">HCC1806</text><circle cx="330.9" cy="207.83999999999997" r="0.9" fill="#8090d0"/><text x="333.5" y="209.03999999999996" font-size="3.3" fill="#2a2a2a">MCF-7</text><circle cx="330.9" cy="211.95999999999998" r="0.9" fill="#70d0e0"/><text x="333.5" y="213.15999999999997" font-size="3.3" fill="#2a2a2a">MDA-MB-231</text><circle cx="330.9" cy="216.07999999999998" r="0.9" fill="#d070d0"/><text x="333.5" y="217.27999999999997" font-size="3.3" fill="#2a2a2a">MDA-MB-468</text>
<text x="210.3" y="206.4" font-size="10.0" font-weight="bold" text-anchor="start" fill="#000">AnAc</text>
<text x="203.5" y="222.7" font-size="3.8" font-weight="normal" text-anchor="middle" fill="#555" transform="rotate(-90 203.5 222.7)">5</text>
<text x="203.5" y="267.7" font-size="3.8" font-weight="normal" text-anchor="middle" fill="#555" transform="rotate(-90 203.5 267.7)">0</text>
<text x="203.5" y="312.09999999999997" font-size="3.8" font-weight="normal" text-anchor="middle" fill="#555" transform="rotate(-90 203.5 312.09999999999997)">-5</text>
<text x="224.1" y="352" font-size="3.8" font-weight="normal" text-anchor="middle" fill="#555">-10</text>
<text x="249.5" y="352" font-size="3.8" font-weight="normal" text-anchor="middle" fill="#555">-5</text>
<text x="274.3" y="352" font-size="3.8" font-weight="normal" text-anchor="middle" fill="#555">0</text>
<text x="299.5" y="352" font-size="3.8" font-weight="normal" text-anchor="middle" fill="#555">5</text>
<text x="324.7" y="352" font-size="3.8" font-weight="normal" text-anchor="middle" fill="#555">10</text>
<text x="349.9" y="352" font-size="3.8" font-weight="normal" text-anchor="middle" fill="#555">15</text>
<text x="197.2" y="298.6" font-size="10.1" font-weight="bold" text-anchor="start" fill="#000" transform="rotate(-90 197.2 298.6)">PC2 (18.3%)</text>
<text x="247" y="365.3" font-size="10.0" font-weight="bold" text-anchor="start" fill="#000">PC1 (36.9%)</text>
<text x="374.2" y="21.8" font-size="12.5" font-weight="bold" text-anchor="start" fill="#000" stroke="#000" stroke-width="0.35">E</text>
<rect x="395.5" y="11" width="148.0" height="149.4" fill="#fff"/><path d="M433.3 11V160.4M504.6 11V160.4M395.5 27.8H543.5M395.5 49.6H543.5M395.5 71.9H543.5M395.5 116H543.5M395.5 138.4H543.5" stroke="#e4e4e4" stroke-width="0.8" fill="none"/><ellipse cx="422.5" cy="92.7" rx="10.0" ry="52.0" transform="rotate(-10.9 422.5 92.7)" fill="rgb(241,155,181)" fill-opacity="0.5"/><ellipse cx="446.0" cy="116.0" rx="5.0" ry="20.0" transform="rotate(0 446.0 116.0)" fill="rgb(165,212,160)" fill-opacity="0.42"/><ellipse cx="468.8" cy="75.3" rx="6.5" ry="49.0" transform="rotate(-8 468.8 75.3)" fill="rgb(165,173,233)" fill-opacity="0.5"/><ellipse cx="492.0" cy="70.6" rx="8.2" ry="37.0" transform="rotate(6.8 492.0 70.6)" fill="rgb(160,225,240)" fill-opacity="0.5"/><ellipse cx="513.0" cy="115.3" rx="14.0" ry="26.0" transform="rotate(20 513.0 115.3)" fill="rgb(245,155,241)" fill-opacity="0.5"/><path d="M468.7 11V160.4M395.5 94.3H543.5" stroke="#888" stroke-width="1.4" fill="none"/><rect x="395.5" y="11" width="148.0" height="149.4" fill="none" stroke="#a8a8a8" stroke-width="1.0"/><path d="M396.9 160.9v2M433.1 160.9v2M468.8 160.9v2M504.3 160.9v2M539.8 160.9v2M395.0 27.8h-2M395.0 49.6h-2M395.0 71.9h-2M395.0 94.3h-2M395.0 116h-2M395.0 138.4h-2" stroke="#777" stroke-width="0.8" fill="none"/><circle cx="418.9" cy="74.5" r="1.6" fill="rgb(228,120,152)" stroke="rgb(115,40,70)" stroke-width="0.8"/><circle cx="424.4" cy="77.4" r="1.6" fill="rgb(228,120,152)" stroke="rgb(115,40,70)" stroke-width="0.8"/><circle cx="422.7" cy="89.5" r="1.6" fill="rgb(228,120,152)" stroke="rgb(115,40,70)" stroke-width="0.8"/><circle cx="418.9" cy="97.3" r="1.6" fill="rgb(228,120,152)" stroke="rgb(115,40,70)" stroke-width="0.8"/><circle cx="431.3" cy="127.1" r="1.6" fill="rgb(228,120,152)" stroke="rgb(115,40,70)" stroke-width="0.8"/><circle cx="443.9" cy="106.1" r="1.6" fill="rgb(125,200,135)" stroke="rgb(45,100,55)" stroke-width="0.8"/><circle cx="448.7" cy="107.7" r="1.6" fill="rgb(125,200,135)" stroke="rgb(45,100,55)" stroke-width="0.8"/><circle cx="445" cy="114.7" r="1.6" fill="rgb(125,200,135)" stroke="rgb(45,100,55)" stroke-width="0.8"/><circle cx="445" cy="122.2" r="1.6" fill="rgb(125,200,135)" stroke="rgb(45,100,55)" stroke-width="0.8"/><circle cx="446.3" cy="125.5" r="1.6" fill="rgb(125,200,135)" stroke="rgb(45,100,55)" stroke-width="0.8"/><circle cx="466" cy="54.4" r="1.6" fill="rgb(150,160,230)" stroke="rgb(50,60,130)" stroke-width="0.8"/><circle cx="464.4" cy="59.3" r="1.6" fill="rgb(150,160,230)" stroke="rgb(50,60,130)" stroke-width="0.8"/><circle cx="471.4" cy="75" r="1.6" fill="rgb(150,160,230)" stroke="rgb(50,60,130)" stroke-width="0.8"/><circle cx="472.6" cy="92.7" r="1.6" fill="rgb(150,160,230)" stroke="rgb(50,60,130)" stroke-width="0.8"/><circle cx="470.2" cy="100.7" r="1.6" fill="rgb(150,160,230)" stroke="rgb(50,60,130)" stroke-width="0.8"/><circle cx="494.6" cy="56.1" r="1.6" fill="rgb(100,220,232)" stroke="rgb(50,110,120)" stroke-width="0.8"/><circle cx="497" cy="58.1" r="1.6" fill="rgb(100,220,232)" stroke="rgb(50,110,120)" stroke-width="0.8"/><circle cx="492.7" cy="70.2" r="1.6" fill="rgb(100,220,232)" stroke="rgb(50,110,120)" stroke-width="0.8"/><circle cx="487.8" cy="79.1" r="1.6" fill="rgb(100,220,232)" stroke="rgb(50,110,120)" stroke-width="0.8"/><circle cx="494.4" cy="93.2" r="1.6" fill="rgb(100,220,232)" stroke="rgb(50,110,120)" stroke-width="0.8"/><circle cx="515.1" cy="100.7" r="1.6" fill="rgb(230,100,230)" stroke="rgb(100,30,100)" stroke-width="0.8"/><circle cx="518.6" cy="108" r="1.6" fill="rgb(230,100,230)" stroke="rgb(100,30,100)" stroke-width="0.8"/><circle cx="503.5" cy="120.1" r="1.6" fill="rgb(230,100,230)" stroke="rgb(100,30,100)" stroke-width="0.8"/><circle cx="510.2" cy="121.7" r="1.6" fill="rgb(230,100,230)" stroke="rgb(100,30,100)" stroke-width="0.8"/><circle cx="517.8" cy="124.9" r="1.6" fill="rgb(230,100,230)" stroke="rgb(100,30,100)" stroke-width="0.8"/><rect x="515.6" y="12.6" width="27.899999999999977" height="23.199999999999996" fill="#fff" stroke="#777" stroke-width="0.7"/><circle cx="519.3000000000001" cy="16.2" r="0.9" fill="#e07090"/><text x="521.9" y="17.4" font-size="3.3" fill="#2a2a2a">BT-20</text><circle cx="519.3000000000001" cy="20.119999999999997" r="0.9" fill="#60b060"/><text x="521.9" y="21.319999999999997" font-size="3.3" fill="#2a2a2a">HCC1806</text><circle cx="519.3000000000001" cy="24.04" r="0.9" fill="#8090d0"/><text x="521.9" y="25.24" font-size="3.3" fill="#2a2a2a">MCF-7</text><circle cx="519.3000000000001" cy="27.959999999999997" r="0.9" fill="#70d0e0"/><text x="521.9" y="29.159999999999997" font-size="3.3" fill="#2a2a2a">MDA-MB-231</text><circle cx="519.3000000000001" cy="31.879999999999995" r="0.9" fill="#d070d0"/><text x="521.9" y="33.08" font-size="3.3" fill="#2a2a2a">MDA-MB-468</text>
<text x="397.8" y="21.8" font-size="9.2" font-weight="bold" text-anchor="start" fill="#000">Control (EtOH)</text>
<text x="390.6" y="29.0" font-size="3.8" font-weight="normal" text-anchor="middle" fill="#555" transform="rotate(-90 390.6 29.0)">15</text>
<text x="390.6" y="50.800000000000004" font-size="3.8" font-weight="normal" text-anchor="middle" fill="#555" transform="rotate(-90 390.6 50.800000000000004)">10</text>
<text x="390.6" y="73.10000000000001" font-size="3.8" font-weight="normal" text-anchor="middle" fill="#555" transform="rotate(-90 390.6 73.10000000000001)">5</text>
<text x="390.6" y="95.5" font-size="3.8" font-weight="normal" text-anchor="middle" fill="#555" transform="rotate(-90 390.6 95.5)">0</text>
<text x="390.6" y="117.2" font-size="3.8" font-weight="normal" text-anchor="middle" fill="#555" transform="rotate(-90 390.6 117.2)">-5</text>
<text x="390.6" y="139.6" font-size="3.8" font-weight="normal" text-anchor="middle" fill="#555" transform="rotate(-90 390.6 139.6)">-10</text>
<text x="396.9" y="167.5" font-size="3.8" font-weight="normal" text-anchor="middle" fill="#555">-10</text>
<text x="433.1" y="167.5" font-size="3.8" font-weight="normal" text-anchor="middle" fill="#555">-5</text>
<text x="468.8" y="167.5" font-size="3.8" font-weight="normal" text-anchor="middle" fill="#555">0</text>
<text x="504.3" y="167.5" font-size="3.8" font-weight="normal" text-anchor="middle" fill="#555">5</text>
<text x="539.8" y="167.5" font-size="3.8" font-weight="normal" text-anchor="middle" fill="#555">10</text>
<text x="383.8" y="157.6" font-size="10.0" font-weight="bold" text-anchor="start" fill="#000" transform="rotate(-90 383.8 157.6)">Orthogonal T score (25.9%)</text>
<text x="430.0" y="181.9" font-size="10.0" font-weight="bold" text-anchor="start" fill="#000">T score (11.3%)</text>
<text x="374.2" y="202.4" font-size="12.5" font-weight="bold" text-anchor="start" fill="#000" stroke="#000" stroke-width="0.35">F</text>
<rect x="396.5" y="194.4" width="149.5" height="149.4" fill="#fff"/><path d="M432.4 194.4V343.8M515.5 194.4V343.8M396.5 222.2H546M396.5 296H546M396.5 332.4H546" stroke="#e4e4e4" stroke-width="0.8" fill="none"/><ellipse cx="422.8" cy="258.6" rx="10.3" ry="49.0" transform="rotate(-1.5 422.8 258.6)" fill="rgb(241,155,181)" fill-opacity="0.5"/><ellipse cx="449.0" cy="280.0" rx="5.5" ry="3.0" transform="rotate(30 449.0 280.0)" fill="rgb(165,212,160)" fill-opacity="0.42"/><ellipse cx="474.3" cy="238.4" rx="5.0" ry="22.0" transform="rotate(-2 474.3 238.4)" fill="rgb(165,173,233)" fill-opacity="0.5"/><ellipse cx="500.5" cy="237.2" rx="11.0" ry="14.5" transform="rotate(15 500.5 237.2)" fill="rgb(160,225,240)" fill-opacity="0.5"/><ellipse cx="525.0" cy="281.5" rx="9.5" ry="47.0" transform="rotate(-3.5 525.0 281.5)" fill="rgb(245,155,241)" fill-opacity="0.5"/><path d="M473.7 194.4V343.8M396.5 259H546" stroke="#8c8c8c" stroke-width="1.5" fill="none"/><rect x="396.5" y="194.4" width="149.5" height="149.4" fill="none" stroke="#a8a8a8" stroke-width="1.0"/><path d="M432.4 344.3v2M473.7 344.3v2M514.9 344.3v2M396.0 222.2h-2M396.0 259h-2M396.0 296h-2M396.0 332.4h-2" stroke="#777" stroke-width="0.8" fill="none"/><circle cx="418.4" cy="236.7" r="1.6" fill="rgb(228,120,152)" stroke="rgb(115,40,70)" stroke-width="0.8"/><circle cx="425.6" cy="236.7" r="1.6" fill="rgb(228,120,152)" stroke="rgb(115,40,70)" stroke-width="0.8"/><circle cx="419.1" cy="273" r="1.6" fill="rgb(228,120,152)" stroke="rgb(115,40,70)" stroke-width="0.8"/><circle cx="421.5" cy="274" r="1.6" fill="rgb(228,120,152)" stroke="rgb(115,40,70)" stroke-width="0.8"/><circle cx="428.1" cy="274" r="1.6" fill="rgb(228,120,152)" stroke="rgb(115,40,70)" stroke-width="0.8"/><circle cx="446.1" cy="277.2" r="1.6" fill="rgb(125,200,135)" stroke="rgb(45,100,55)" stroke-width="0.8"/><circle cx="445.9" cy="279.1" r="1.6" fill="rgb(125,200,135)" stroke="rgb(45,100,55)" stroke-width="0.8"/><circle cx="445.9" cy="281.8" r="1.6" fill="rgb(125,200,135)" stroke="rgb(45,100,55)" stroke-width="0.8"/><circle cx="449.4" cy="282.4" r="1.6" fill="rgb(125,200,135)" stroke="rgb(45,100,55)" stroke-width="0.8"/><circle cx="452.3" cy="282.6" r="1.6" fill="rgb(125,200,135)" stroke="rgb(45,100,55)" stroke-width="0.8"/><circle cx="474.5" cy="229.4" r="1.6" fill="rgb(150,160,230)" stroke="rgb(50,60,130)" stroke-width="0.8"/><circle cx="474.5" cy="233.6" r="1.6" fill="rgb(150,160,230)" stroke="rgb(50,60,130)" stroke-width="0.8"/><circle cx="470.9" cy="236" r="1.6" fill="rgb(150,160,230)" stroke="rgb(50,60,130)" stroke-width="0.8"/><circle cx="475.2" cy="238.4" r="1.6" fill="rgb(150,160,230)" stroke="rgb(50,60,130)" stroke-width="0.8"/><circle cx="475.7" cy="253.6" r="1.6" fill="rgb(150,160,230)" stroke="rgb(50,60,130)" stroke-width="0.8"/><circle cx="493.9" cy="233.1" r="1.6" fill="rgb(100,220,232)" stroke="rgb(50,110,120)" stroke-width="0.8"/><circle cx="500.4" cy="231.1" r="1.6" fill="rgb(100,220,232)" stroke="rgb(50,110,120)" stroke-width="0.8"/><circle cx="505.2" cy="230.6" r="1.6" fill="rgb(100,220,232)" stroke="rgb(50,110,120)" stroke-width="0.8"/><circle cx="499.9" cy="238.4" r="1.6" fill="rgb(100,220,232)" stroke="rgb(50,110,120)" stroke-width="0.8"/><circle cx="499.4" cy="242.5" r="1.6" fill="rgb(100,220,232)" stroke="rgb(50,110,120)" stroke-width="0.8"/><circle cx="520" cy="262.6" r="1.6" fill="rgb(230,100,230)" stroke="rgb(100,30,100)" stroke-width="0.8"/><circle cx="522.9" cy="265" r="1.6" fill="rgb(230,100,230)" stroke="rgb(100,30,100)" stroke-width="0.8"/><circle cx="527.3" cy="283.7" r="1.6" fill="rgb(230,100,230)" stroke="rgb(100,30,100)" stroke-width="0.8"/><circle cx="525.8" cy="286.2" r="1.6" fill="rgb(230,100,230)" stroke="rgb(100,30,100)" stroke-width="0.8"/><circle cx="523.8" cy="310.4" r="1.6" fill="rgb(230,100,230)" stroke="rgb(100,30,100)" stroke-width="0.8"/><rect x="518" y="194.8" width="27.899999999999977" height="24.19999999999999" fill="#fff" stroke="#777" stroke-width="0.7"/><circle cx="521.7" cy="198.4" r="0.9" fill="#e07090"/><text x="524.3" y="199.6" font-size="3.3" fill="#2a2a2a">BT-20</text><circle cx="521.7" cy="202.52" r="0.9" fill="#60b060"/><text x="524.3" y="203.72" font-size="3.3" fill="#2a2a2a">HCC1806</text><circle cx="521.7" cy="206.64" r="0.9" fill="#8090d0"/><text x="524.3" y="207.83999999999997" font-size="3.3" fill="#2a2a2a">MCF-7</text><circle cx="521.7" cy="210.76" r="0.9" fill="#70d0e0"/><text x="524.3" y="211.95999999999998" font-size="3.3" fill="#2a2a2a">MDA-MB-231</text><circle cx="521.7" cy="214.88" r="0.9" fill="#d070d0"/><text x="524.3" y="216.07999999999998" font-size="3.3" fill="#2a2a2a">MDA-MB-468</text>
<text x="405.8" y="205.2" font-size="10.0" font-weight="bold" text-anchor="start" fill="#000">AnAc</text>
<text x="391.5" y="223.39999999999998" font-size="3.8" font-weight="normal" text-anchor="middle" fill="#555" transform="rotate(-90 391.5 223.39999999999998)">10</text>
<text x="391.5" y="260.2" font-size="3.8" font-weight="normal" text-anchor="middle" fill="#555" transform="rotate(-90 391.5 260.2)">0</text>
<text x="391.5" y="297.2" font-size="3.8" font-weight="normal" text-anchor="middle" fill="#555" transform="rotate(-90 391.5 297.2)">-10</text>
<text x="391.5" y="333.59999999999997" font-size="3.8" font-weight="normal" text-anchor="middle" fill="#555" transform="rotate(-90 391.5 333.59999999999997)">-20</text>
<text x="432.4" y="352" font-size="3.8" font-weight="normal" text-anchor="middle" fill="#555">-5</text>
<text x="473.7" y="352" font-size="3.8" font-weight="normal" text-anchor="middle" fill="#555">0</text>
<text x="514.9" y="352" font-size="3.8" font-weight="normal" text-anchor="middle" fill="#555">5</text>
<text x="383.4" y="339.4" font-size="10.0" font-weight="bold" text-anchor="start" fill="#000" transform="rotate(-90 383.4 339.4)">Orthogonal T score (32.3%)</text>
<text x="429" y="367.3" font-size="10.0" font-weight="bold" text-anchor="start" fill="#000">T score (10.5%)</text>
</svg></body></html>
